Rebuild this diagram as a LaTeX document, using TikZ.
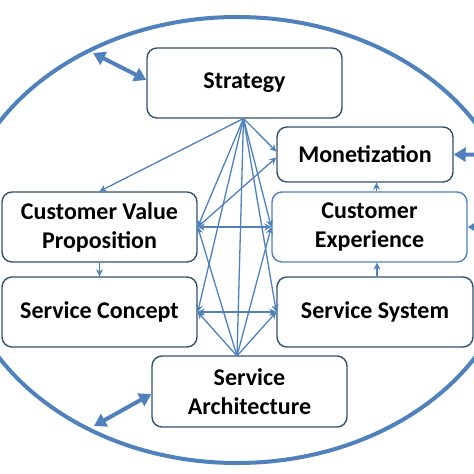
\documentclass[tikz,border=0pt]{standalone}
\usepackage{fontspec}
\setmainfont{Carlito}
\usetikzlibrary{arrows.meta}
\definecolor{lineblue}{HTML}{4F81BD}
\definecolor{boxedge}{HTML}{34506F}
\begin{document}
\begin{tikzpicture}[x=1pt,y=-1pt,
  box/.style={draw=boxedge, line width=1.4pt, rounded corners=10pt, fill=white,
    align=center, font=\fontsize{24}{29}\selectfont\bfseries, inner sep=0pt,
    minimum width=195pt, minimum height=70pt},
  conn/.style={draw=lineblue, line width=1.3pt},
  tip/.style={-{Stealth[length=7pt,width=7pt]}},
  bothtip/.style={{Stealth[length=7pt,width=7pt]}-{Stealth[length=7pt,width=7pt]}},
  bigarrow/.style={draw=lineblue, line width=4pt,
    {Triangle[length=12pt,width=14pt]}-{Triangle[length=12pt,width=14pt]}}]
\useasboundingbox (0,0) rectangle (474,474);
\clip (0,0) rectangle (474,474);
\fill[white] (0,0) rectangle (474,474);
\draw[lineblue, line width=4pt] (237,240) ellipse [x radius=280pt, y radius=223pt];

\node[box] (strategy) at (244.5,83) {Strategy};
\node[box, minimum width=176pt, minimum height=55pt] (mon) at (365,154.5) {Monetization};
\node[box] (cvp) at (99.5,227) {Customer Value\\Proposition};
\node[box, draw=lineblue] (ce) at (369.5,227) {Customer\\Experience};
\node[box] (sc) at (99.5,312) {Service Concept};
\node[box, minimum width=196pt] (ss) at (375,312) {Service System};
\node[box, minimum height=71pt] (sa) at (249.5,391.5) {Service\\Architecture};

\coordinate (S) at (243.5,118.5);
\coordinate (A) at (237,356);
\coordinate (e1) at (93,53);
\coordinate (e2) at (94,426);
\coordinate (e3) at (501,155);
\coordinate (e4) at (521,227);

% thick arrows to the ellipse
\draw[bigarrow] (e1) -- ([yshift=3pt]strategy.west);
\draw[bigarrow] (e2) -- ([yshift=-2.5pt]sa.west);
\draw[bigarrow] (e3) -- (mon.east);
\draw[bigarrow] (e4) -- (ce.east);

% from strategy
\draw[conn, tip] (S) -- (cvp.north);
\draw[conn, tip] (S) -- ([yshift=3pt]mon.west);
\draw[conn, tip] (S) -- (cvp.east);
\draw[conn, tip] (S) -- (ce.west);
\draw[conn, tip] (S) -- (sc.east);
\draw[conn, tip] (S) -- (ss.west);
\draw[conn] (S) -- (A);

% from service architecture
\draw[conn, tip] (A) -- (cvp.east);
\draw[conn, tip] (A) -- (ce.west);
\draw[conn, tip] (A) -- (sc.east);
\draw[conn, tip] (A) -- (ss.west);

% others
\draw[conn, tip] (cvp.east) -- ([yshift=-3pt]mon.west);
\draw[conn, bothtip] (cvp.east) -- (ce.west);
\draw[conn, bothtip] (sc.east) -- (ss.west);
\draw[conn, tip] (cvp.south) -- (sc.north);
\draw[conn, tip] ([xshift=2pt]ss.north) -- ([xshift=2pt]ss.north |- ce.south);
\draw[conn, tip] ([xshift=7pt]ce.north) -- ([xshift=7pt]ce.north |- mon.south);
\end{tikzpicture}
\end{document}
